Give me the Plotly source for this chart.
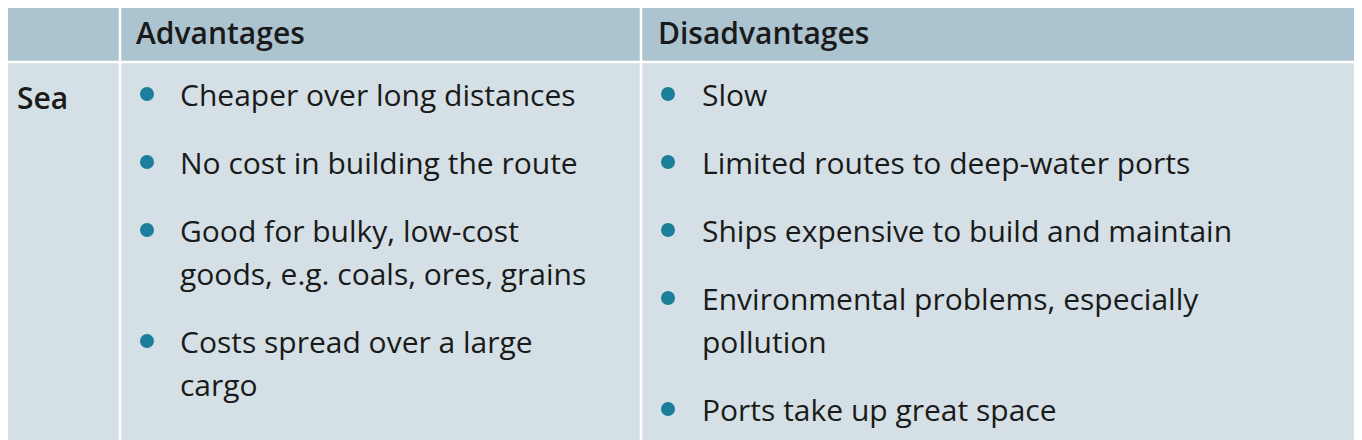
import plotly.graph_objects as go

W, H = 1362, 440
HEADER_BG = '#abc4d0'
BODY_BG = '#d4e0e5'
BULLET = '#1b7f99'
TEXT = '#1a1a1a'

headers = ['Advantages', 'Disadvantages']
row_label = 'Sea'
advantages = [
    ['Cheaper over long distances'],
    ['No cost in building the route'],
    ['Good for bulky, low-cost', 'goods, e.g. coals, ores, grains'],
    ['Costs spread over a large', 'cargo'],
]
disadvantages = [
    ['Slow'],
    ['Limited routes to deep-water ports'],
    ['Ships expensive to build and maintain'],
    ['Environmental problems, especially', 'pollution'],
    ['Ports take up great space'],
]

FONT = 'Open Sans'
FS = 30
col_x = [0, 120, 641, W + 20]
header_h = 62
OFF = 8  # page offset of the plot area

fig = go.Figure()

# cell backgrounds
for i in range(3):
    fig.add_shape(type='rect', x0=col_x[i], x1=col_x[i + 1], y0=0, y1=header_h,
                  fillcolor=HEADER_BG, line_width=0, layer='below')
    fig.add_shape(type='rect', x0=col_x[i], x1=col_x[i + 1], y0=header_h, y1=H + 20,
                  fillcolor=BODY_BG, line_width=0, layer='below')
# white grid lines
for x in col_x[1:3]:
    fig.add_shape(type='line', x0=x, x1=x, y0=0, y1=H + 20, line=dict(color='white', width=2.5))
fig.add_shape(type='line', x0=0, x1=W + 20, y0=header_h, y1=header_h, line=dict(color='white', width=2.5))


def add_text(x, y, s, weight='normal'):
    fig.add_annotation(x=x, y=y, text=s, showarrow=False, xanchor='left', yanchor='middle',
                       font=dict(family=FONT, size=FS, color=TEXT, weight=weight))


add_text(134, 32, headers[0], 600)
add_text(656, 32, headers[1], 600)
add_text(15, 97, row_label, 600)


def add_list(items, bx, tx):
    y = 94
    bxs, bys = [], []
    for item in items:
        bxs.append(bx)
        bys.append(y)
        for j, line in enumerate(item):
            add_text(tx, y + j * 43, line)
        y += 43 * (len(item) - 1) + 68
    fig.add_trace(go.Scatter(x=bxs, y=bys, mode='markers', hoverinfo='skip',
                             marker=dict(color=BULLET, size=14)))


add_list(advantages, 147, 178)
add_list(disadvantages, 668, 700)

fig.update_xaxes(range=[OFF, W + OFF], visible=False, fixedrange=True)
fig.update_yaxes(range=[H + OFF, OFF], visible=False, fixedrange=True)
fig.update_layout(width=W, height=H, margin=dict(l=0, r=0, t=0, b=0),
                  showlegend=False, paper_bgcolor='white', plot_bgcolor='white')

fig.write_html('out.html')
